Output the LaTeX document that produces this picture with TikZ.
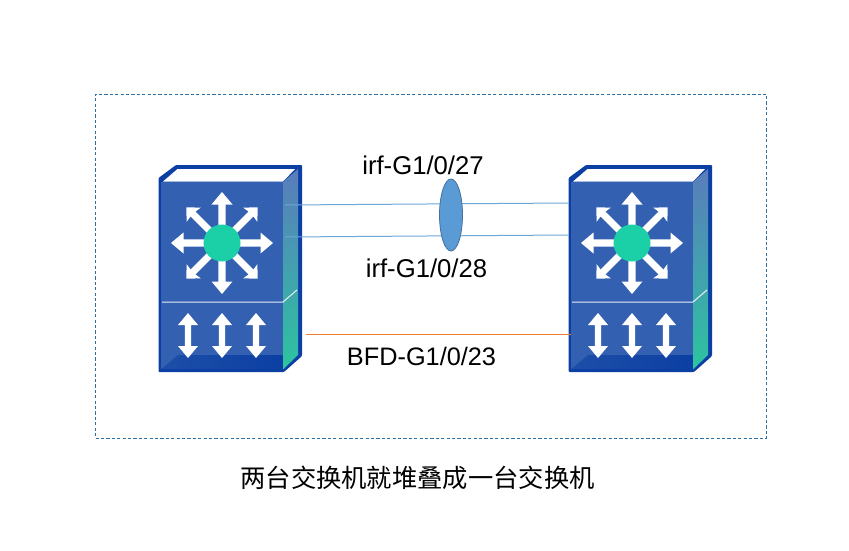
\documentclass[tikz,border=0pt]{standalone}
\usepackage{fontspec}
\setmainfont{Liberation Sans}
\newfontfamily\cjkfont{Noto Sans CJK SC}
\definecolor{swborder}{HTML}{0B3FA3}
\definecolor{swface}{HTML}{3460B2}
\definecolor{swfloor}{HTML}{1A4CA6}
\definecolor{swgreen}{HTML}{1BCFA6}
\definecolor{sidetop}{HTML}{5A7CBC}
\definecolor{sidemid}{HTML}{4F92AF}
\definecolor{sidebot}{HTML}{2CC4A0}
\definecolor{linkblue}{HTML}{6FA6D8}
\definecolor{ringfill}{HTML}{5B9BD5}
\definecolor{ringedge}{HTML}{41719C}
\definecolor{bfdline}{HTML}{ED7D31}
\definecolor{framecol}{HTML}{2F6F9F}
\usetikzlibrary{shapes.geometric}
\tikzset{
  x=1pt,y=-1pt,
  labeltext/.style={font=\fontsize{25.7}{28}\selectfont,inner sep=0pt,text=black},
  whitearrow/.style={fill=white,draw=none},
  linkline/.style={draw=linkblue,line width=1pt},
  bfdlink/.style={draw=bfdline,line width=0.9pt},
  framebox/.style={draw=framecol,line width=0.8pt,dash pattern=on 3.2pt off 2.2pt},
  ringshape/.style={ellipse,draw=ringedge,fill=ringfill,line width=0.8pt,minimum width=23pt,minimum height=72pt,inner sep=0pt},
}
\newcommand{\axisarrow}[3]{%
  \fill[whitearrow,shift={(#1,#2)},rotate=#3]
    (0,-3.6) -- (38.5,-3.6) -- (38.5,-10.5) -- (51,0) -- (38.5,10.5) -- (38.5,3.6) -- (0,3.6) -- cycle;}
\newcommand{\diagarrow}[3]{%
  \fill[whitearrow,shift={(#1,#2)},rotate=#3]
    (0,-3.4) -- (41,-3.4) -- (40,-10) -- (50.5,0) -- (40,10) -- (41,3.4) -- (0,3.4) -- cycle;}
\newcommand{\updown}[1]{%
  \fill[whitearrow]
    (#1-3.1,325) -- (#1-10,325) -- (#1,313) -- (#1+10,325) -- (#1+3.1,325)
    -- (#1+3.1,346) -- (#1+10,346) -- (#1,358) -- (#1-10,346) -- (#1-3.1,346) -- cycle;}
\tikzset{
  pics/switchbox/.style={code={
    \fill[swborder,rounded corners=1pt] (158.5,178) -- (176,165) -- (302,165) -- (302,356) -- (284,372) -- (158.5,372) -- cycle;
    \fill[white] (163,181.5) -- (177.5,169) -- (295,169) -- (283,181.5) -- cycle;
    \fill[swface] (161,181.5) -- (283.5,181.5) -- (283.5,369) -- (161,369) -- cycle;
    \shade[left color=swfloor!88!swface,right color=swborder] (161.5,369) -- (178,355) -- (283.5,355) -- (283.5,369) -- cycle;
    \shade[top color=sidetop,middle color=sidemid,bottom color=sidebot] (283.5,181.5) -- (298,169) -- (298,355) -- (283.5,369) -- cycle;
    \draw[white!90!swface,line width=1pt] (162,302) -- (283,302) -- (297,290);
    \foreach \a in {0,90,180,270} {\axisarrow{222}{243}{\a}}
    \foreach \a in {45,135,225,315} {\diagarrow{222}{243}{\a}}
    \fill[swgreen] (222,243) circle[radius=18.5];
    \updown{188}\updown{222}\updown{256}
    \coordinate (-porta) at (285,205);
    \coordinate (-portb) at (285,237);
    \coordinate (-portc) at (306,334);
    \coordinate (-inza) at (159,203);
    \coordinate (-inzb) at (159,235);
    \coordinate (-inzc) at (161,334);
  }}
}
\begin{document}
\begin{tikzpicture}
\useasboundingbox (0,0) rectangle (849,551);
\fill[white] (0,0) rectangle (849,551);
\node[framebox,minimum width=671pt,minimum height=344pt,inner sep=0pt] (frame) at (431,266) {};
\pic (swl) at (0,0) {switchbox};
\pic (swr) at (410,0) {switchbox};
\draw[linkline] (swl-porta) -- (swr-inza);
\draw[linkline] (swl-portb) -- (swr-inzb);
\draw[bfdlink] (swl-portc) -- (swr-inzc);
\node[ringshape] (ring) at (451,215) {};
\node[labeltext] (t27) at (423,165) {irf-G1/0/27};
\node[labeltext] (t28) at (426.5,268) {irf-G1/0/28};
\node[labeltext,font=\fontsize{25.3}{28}\selectfont] (tbfd) at (421.5,356) {BFD-G1/0/23};
\node[labeltext,font=\fontsize{25.3}{28}\selectfont\cjkfont] (cap) at (417.5,478) {两台交换机就堆叠成一台交换机};
\end{tikzpicture}
\end{document}
